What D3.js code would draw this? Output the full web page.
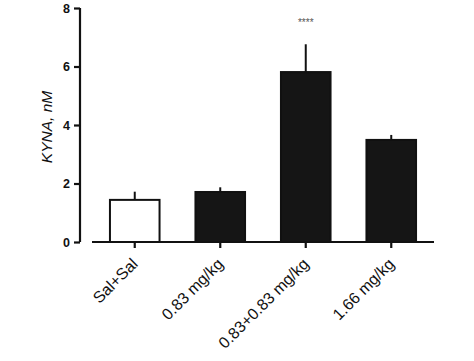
<!DOCTYPE html>
<html><head><meta charset="utf-8">
<script src="https://cdn.jsdelivr.net/npm/d3@7"></script>
<style>body{margin:0;background:#fff}svg{display:block}</style>
</head><body>
<svg id="c" width="474" height="361"></svg>
<script>
const categories = ["Sal+Sal", "0.83 mg/kg", "0.83+0.83 mg/kg", "1.66 mg/kg"];
const means = [1.44, 1.71, 5.81, 3.49];
const errors = [0.28, 0.16, 0.95, 0.17];
const fills = ["#ffffff", "#151515", "#151515", "#151515"];
const yTicks = [0, 2, 4, 6, 8];
const sigLabels = ["", "", "****", ""];

const svg = d3.select("#c");
const x = d3.scaleBand().domain(categories).range([92, 434]).paddingInner(0.42).paddingOuter(0.21);
const y = d3.scaleLinear().domain([0, 8]).range([242, 8]);
const font = "Liberation Sans, Arial, sans-serif";

// bars
svg.selectAll("rect.bar").data(categories).join("rect")
  .attr("x", d => x(d)).attr("width", x.bandwidth())
  .attr("y", (d, i) => y(means[i])).attr("height", (d, i) => y(0) - y(means[i]))
  .attr("fill", (d, i) => fills[i]).attr("stroke", "#111").attr("stroke-width", 2);

// error bars
svg.selectAll("line.err").data(categories).join("line")
  .attr("x1", d => x(d) + x.bandwidth() / 2).attr("x2", d => x(d) + x.bandwidth() / 2)
  .attr("y1", (d, i) => y(means[i])).attr("y2", (d, i) => y(means[i] + errors[i]))
  .attr("stroke", "#111").attr("stroke-width", 2);

// significance
svg.selectAll("text.sig").data(categories).join("text")
  .attr("x", d => x(d) + x.bandwidth() / 2).attr("y", 25.5)
  .attr("text-anchor", "middle").attr("font-family", font).attr("font-size", 10)
  .attr("fill", "#555").text((d, i) => sigLabels[i]);

// y axis
const ya = svg.append("g").attr("transform", "translate(80,0)")
  .call(d3.axisLeft(y).tickValues(yTicks).tickSize(6).tickPadding(4).tickFormat(d3.format("d")));
ya.select(".domain").attr("stroke", "#111").attr("stroke-width", 2.2).attr("d", `M0,${y(8)}V${y(0)}`);
ya.selectAll(".tick line").attr("stroke", "#111").attr("stroke-width", 2.2);
ya.selectAll(".tick text").attr("font-family", font).attr("font-size", 12.5).attr("font-weight", "bold").attr("fill", "#111");

// x axis
const xa = svg.append("g").attr("transform", `translate(0,${y(0)})`)
  .call(d3.axisBottom(x).tickSize(6).tickPadding(4));
xa.select(".domain").attr("stroke", "#111").attr("stroke-width", 2.2).attr("d", "M92,0H434");
xa.selectAll(".tick line").attr("stroke", "#111").attr("stroke-width", 2.2);
xa.selectAll(".tick text").attr("font-family", font).attr("font-size", 16).attr("fill", "#111")
  .attr("text-anchor", "end").attr("y", 0).attr("dy", "0.35em")
  .attr("transform", "translate(0,19) rotate(-45)");

// y label
svg.append("text").attr("transform", "translate(52,127) rotate(-90)")
  .attr("text-anchor", "middle").attr("font-family", font).attr("font-size", 15.5)
  .attr("font-style", "italic").attr("fill", "#111").text("KYNA, nM");
</script>
</body></html>
